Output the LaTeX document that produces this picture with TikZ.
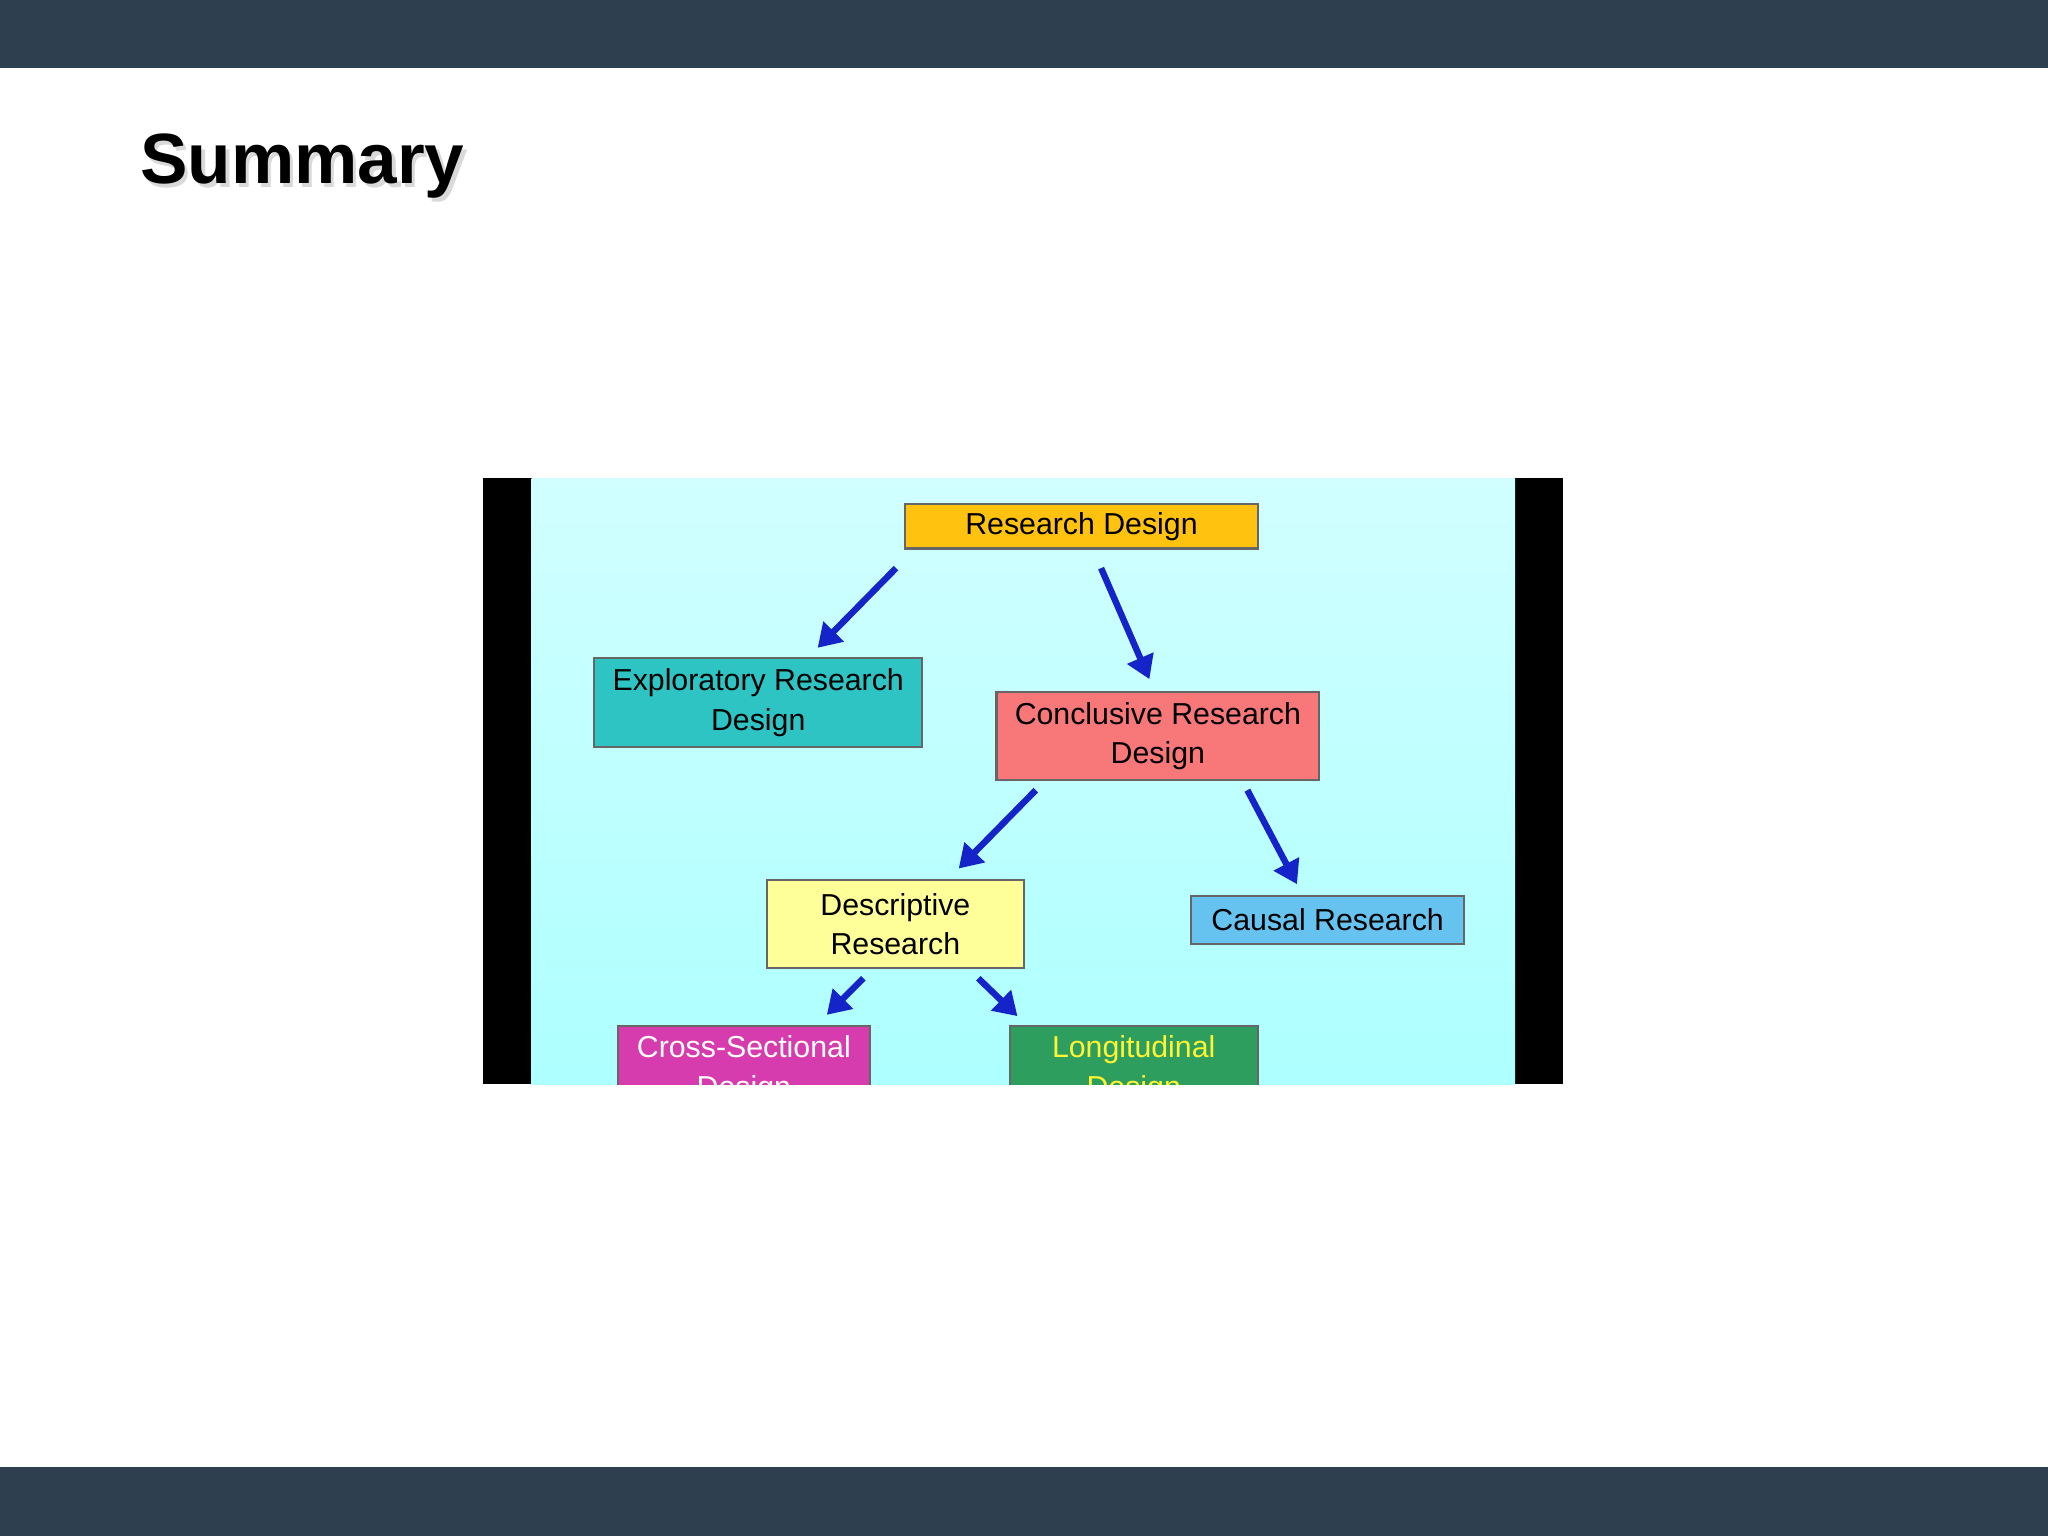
\documentclass[tikz,border=0pt]{standalone}
\usepackage{fontspec}
\setmainfont{Liberation Sans}
\usetikzlibrary{arrows.meta,shadows}
\definecolor{barcol}{HTML}{2E404F}
\definecolor{rdcol}{HTML}{FFC20E}
\definecolor{excol}{HTML}{2EC4C4}
\definecolor{cocol}{HTML}{F8787A}
\definecolor{decol}{HTML}{FFFF99}
\definecolor{cacol}{HTML}{66C2EE}
\definecolor{cscol}{HTML}{D63CAE}
\definecolor{locol}{HTML}{2E9E5E}
\definecolor{arrcol}{HTML}{1424C8}
\tikzset{
  box/.style={draw=black!60, line width=0.5pt, align=center, inner sep=1pt,
    font=\fontsize{6.6}{8.6}\selectfont},
  flow/.style={draw=arrcol, line width=1.4pt, -{Triangle[length=5pt,width=6pt]}}
}
\begin{document}
\begin{tikzpicture}
    \useasboundingbox (0,0) rectangle (15.68,11.76);
    % Bars
    \fill[barcol] (0,11.24) rectangle (15.68,11.76);
    \fill[barcol] (0,0) rectangle (15.68,0.53);
    % Title
    \node[anchor=west, font=\bfseries\fontsize{15.5}{18}\selectfont, text=black!15] (ttlsh) at (0.975,10.46) {Summary};
    \node[anchor=west, font=\bfseries\fontsize{15.5}{18}\selectfont] (ttl) at (0.95,10.49) {Summary};
    % Screenshot frame
    \fill[black] (3.70,3.46) rectangle (11.97,8.10);
    \begin{scope}
        \clip (4.07,3.46) rectangle (11.60,8.10);
        \shade[top color=cyan!18, bottom color=cyan!32] (4.07,3.46) rectangle (11.60,8.10);
        % Boxes
        \node[box, fill=rdcol, minimum width=2.70cm, minimum height=0.34cm] (rd) at (8.28,7.73) {Research Design};
        \node[box, fill=excol, minimum width=2.51cm, minimum height=0.68cm] (ex) at (5.805,6.38) {Exploratory Research\\Design};
        \node[box, fill=cocol, minimum width=2.47cm, minimum height=0.67cm] (co) at (8.865,6.125) {Conclusive Research\\Design};
        \node[box, fill=decol, minimum width=1.97cm, minimum height=0.67cm] (de) at (6.855,4.685) {Descriptive\\Research};
        \node[box, fill=cacol, minimum width=2.09cm, minimum height=0.37cm] (ca) at (10.165,4.715) {Causal Research};
        \node[box, fill=cscol, text=white, minimum width=1.93cm, minimum height=0.67cm] (cs) at (5.695,3.57) {Cross-Sectional\\Design};
        \node[box, fill=locol, text=yellow!80!white, minimum width=1.90cm, minimum height=0.67cm] (lo) at (8.68,3.57) {Longitudinal\\Design};
        % Arrow ends
        \coordinate (a1) at (6.86,7.41); \coordinate (b1) at (6.26,6.80);
        \coordinate (a2) at (8.43,7.41); \coordinate (b2) at (8.80,6.56);
        \coordinate (a3) at (7.93,5.71); \coordinate (b3) at (7.34,5.11);
        \coordinate (a4) at (9.55,5.71); \coordinate (b4) at (9.93,4.99);
        \coordinate (a5) at (6.61,4.27); \coordinate (b5) at (6.33,3.99);
        \coordinate (a6) at (7.49,4.27); \coordinate (b6) at (7.79,3.98);
        \foreach \s/\t in {a1/b1,a2/b2,a3/b3,a4/b4,a5/b5,a6/b6}
            \draw[flow] (\s) -- (\t);
    \end{scope}
\end{tikzpicture}
\end{document}
